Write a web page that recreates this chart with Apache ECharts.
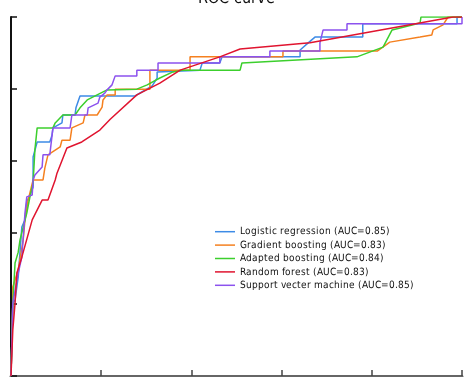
<!DOCTYPE html>
<html>
<head>
<meta charset="utf-8">
<script src="https://cdn.jsdelivr.net/npm/echarts@6/dist/echarts.min.js"></script>
<style>
  html, body { margin: 0; padding: 0; background: #fff; }
  #chart { width: 474px; height: 377px; }
  @font-face {
    font-family: 'NarrowFace';
    src: local('Liberation Sans Narrow'), local('LiberationSansNarrow-Regular'),
         local('DejaVu Sans Condensed'), local('DejaVuSansCondensed');
  }
</style>
</head>
<body>
<div id="chart"></div>
<script>
// ROC 曲线数据 [FPR, TPR]
var names = [
  'Logistic regression (AUC=0.85)',
  'Gradient boosting (AUC=0.83)',
  'Adapted boosting (AUC=0.84)',
  'Random forest (AUC=0.83)',
  'Support vecter machine (AUC=0.85)'
];
var colors = ['#3d8be6', '#f5801f', '#3ccf2d', '#e0142f', '#8c52ee'];

var logistic = [[0,0],[0.004,0.2],[0.009,0.212],[0.016,0.276],[0.024,0.415],[0.031,0.435],[0.035,0.485],
  [0.042,0.504],[0.049,0.526],[0.049,0.61],[0.058,0.652],[0.086,0.652],[0.091,0.671],[0.093,0.691],
  [0.113,0.705],[0.115,0.727],[0.142,0.727],[0.144,0.747],[0.153,0.78],[0.275,0.78],[0.313,0.808],
  [0.324,0.83],[0.324,0.847],[0.419,0.852],[0.424,0.872],[0.463,0.872],[0.468,0.889],[0.641,0.889],
  [0.641,0.908],[0.659,0.928],[0.674,0.944],[0.78,0.944],[0.78,0.981],[0.989,0.981],[0.989,1],[1,1]];

var gradient = [[0,0],[0.004,0.2],[0.004,0.248],[0.016,0.295],[0.027,0.379],[0.031,0.435],[0.038,0.49],
  [0.049,0.546],[0.071,0.546],[0.075,0.579],[0.082,0.616],[0.109,0.638],[0.113,0.657],[0.131,0.657],
  [0.135,0.691],[0.16,0.705],[0.164,0.727],[0.191,0.727],[0.202,0.749],[0.204,0.769],[0.213,0.783],
  [0.231,0.783],[0.231,0.799],[0.308,0.799],[0.308,0.852],[0.397,0.852],[0.397,0.889],[0.603,0.889],
  [0.603,0.905],[0.812,0.905],[0.84,0.93],[0.907,0.944],[0.933,0.95],[0.936,0.964],[0.958,0.978],
  [0.969,1],[1,1]];

var adaboost = [[0,0],[0.004,0.2],[0.009,0.315],[0.016,0.345],[0.02,0.379],[0.035,0.454],[0.042,0.499],
  [0.049,0.538],[0.053,0.63],[0.058,0.691],[0.093,0.691],[0.098,0.705],[0.115,0.727],[0.142,0.727],
  [0.153,0.747],[0.169,0.769],[0.191,0.783],[0.213,0.797],[0.279,0.799],[0.302,0.811],[0.33,0.83],
  [0.359,0.847],[0.381,0.852],[0.508,0.852],[0.512,0.872],[0.767,0.889],[0.825,0.916],[0.845,0.964],
  [0.907,0.983],[0.909,1],[1,1]];

var forest = [[0,0],[0.004,0.128],[0.009,0.203],[0.013,0.287],[0.024,0.331],[0.047,0.435],[0.069,0.49],
  [0.082,0.49],[0.098,0.546],[0.102,0.565],[0.124,0.635],[0.157,0.652],[0.197,0.685],[0.22,0.715],
  [0.279,0.783],[0.33,0.816],[0.375,0.852],[0.463,0.889],[0.508,0.911],[0.663,0.928],[0.98,1],[1,1]];

var svm = [[0,0],[0.004,0.203],[0.016,0.287],[0.024,0.331],[0.031,0.454],[0.035,0.499],[0.047,0.504],
  [0.049,0.546],[0.053,0.56],[0.069,0.582],[0.071,0.616],[0.086,0.616],[0.093,0.691],[0.131,0.691],
  [0.135,0.727],[0.169,0.727],[0.171,0.747],[0.193,0.76],[0.197,0.777],[0.208,0.788],[0.213,0.797],
  [0.224,0.811],[0.231,0.836],[0.279,0.836],[0.279,0.852],[0.326,0.852],[0.326,0.872],[0.463,0.872],
  [0.463,0.889],[0.574,0.889],[0.574,0.905],[0.685,0.905],[0.685,0.928],[0.692,0.964],[0.745,0.964],
  [0.745,0.981],[1,0.981],[1,1]];

var curves = [logistic, gradient, adaboost, forest, svm];

var font = 'NarrowFace, "Liberation Sans", sans-serif';

// 按图例首行宽度（约145px）调字号，窄体缺失时也能对上
function fitSize(text, target) {
  var ctx = document.createElement('canvas').getContext('2d');
  ctx.font = '20px ' + font;
  return 20 * target / ctx.measureText(text).width;
}

function draw() {
  var legendSize = fitSize(names[0], 145);
  var titleSize = fitSize('ROC curve', 76);
  var myChart = echarts.init(document.getElementById('chart'));

  var series = curves.map(function (d, i) {
    return {
      name: names[i],
      type: 'line',
      data: d,
      showSymbol: false,
      symbol: 'none',
      lineStyle: { color: colors[i], width: 1.5 },
      itemStyle: { color: colors[i] },
      z: i === 3 ? 5 : 3
    };
  });

  myChart.setOption({
    animation: false,
    title: {
      text: 'ROC curve',
      left: 236,
      textAlign: 'center',
      top: 4 - titleSize * 0.85,
      padding: 0,
      textStyle: { fontFamily: font, fontSize: titleSize, fontWeight: 'normal', color: '#111' }
    },
    legend: {
      orient: 'vertical',
      left: 215,
      top: 225,
      padding: 0,
      itemGap: 0,
      itemWidth: 20,
      itemHeight: 1.5,
      icon: 'rect',
      data: names,
      textStyle: { fontFamily: font, fontSize: legendSize, lineHeight: 13.4, color: '#111' }
    },
    grid: { left: 11, right: 12, top: 17, bottom: 1 },
    xAxis: {
      type: 'value',
      min: 0,
      max: 1,
      interval: 0.2,
      axisLine: { show: true, lineStyle: { color: '#666', width: 3 } },
      axisTick: { show: true, inside: true, length: 6, lineStyle: { color: '#444', width: 1.5 } },
      axisLabel: { show: false },
      splitLine: { show: false }
    },
    yAxis: {
      type: 'value',
      min: 0,
      max: 1,
      interval: 0.2,
      axisLine: { show: true, lineStyle: { color: '#111', width: 2 } },
      axisTick: { show: true, inside: true, length: 6, lineStyle: { color: '#111', width: 1.5 } },
      axisLabel: { show: false },
      splitLine: { show: false }
    },
    series: series
  });
}

document.fonts.load('12px NarrowFace').then(draw, draw);
</script>
</body>
</html>
